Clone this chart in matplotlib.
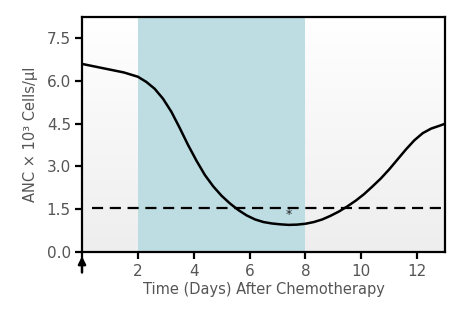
import numpy as np
import matplotlib.pyplot as plt
from matplotlib.colors import LinearSegmentedColormap

# values
days = [0, 0.5, 1.0, 1.5, 2.0, 2.3, 2.6, 2.9, 3.2, 3.5, 3.8, 4.1, 4.4, 4.7,
        5.0, 5.3, 5.6, 5.9, 6.2, 6.5, 6.8, 7.1, 7.4, 7.7, 8.0, 8.3, 8.6, 8.9,
        9.2, 9.5, 9.8, 10.1, 10.4, 10.7, 11.0, 11.3, 11.6, 11.9, 12.2, 12.5,
        12.8, 13.0]
anc = [6.6, 6.5, 6.4, 6.3, 6.15, 5.97, 5.73, 5.38, 4.92, 4.35, 3.75, 3.2,
       2.7, 2.3, 1.97, 1.7, 1.47, 1.28, 1.14, 1.05, 1.0, 0.97, 0.95, 0.96,
       0.99, 1.05, 1.14, 1.27, 1.42, 1.6, 1.8, 2.03, 2.3, 2.58, 2.9, 3.25,
       3.6, 3.92, 4.17, 4.33, 4.43, 4.5]
threshold = 1.55
nadir_window = (2, 8)
nadir_mark = (7.4, 1.32)
x_ticks = [0, 2, 4, 6, 8, 10, 12]
x_labels = ['', '2', '4', '6', '8', '10', '12']
y_ticks = [0.0, 1.5, 3.0, 4.5, 6.0, 7.5]

txt = '#555555'
plt.rcParams['font.family'] = ['DejaVu Sans']

fig = plt.figure(figsize=(4.74, 3.13), dpi=100)
ax = fig.add_axes([0.173, 0.195, 0.766, 0.751])
ax.set_xlim(0, 13)
ax.set_ylim(0, 8.25)

# soft background gradient
grad = np.linspace(0, 1, 100).reshape(-1, 1)
bg = LinearSegmentedColormap.from_list('bg', ['#ffffff', '#eeeeee'])
ax.imshow(grad, extent=[0, 13, 0, 8.25], aspect='auto', origin='upper',
          cmap=bg, zorder=0)

ax.axvspan(*nadir_window, color='#bddde3', zorder=1, lw=0)
ax.hlines(threshold, 0.35, 13, colors='black', linestyles=(0, (5, 3)),
          lw=1.6, zorder=2)
ax.plot(days, anc, color='black', lw=1.8, zorder=3)
ax.text(nadir_mark[0], nadir_mark[1], '*', ha='center', va='center',
        fontsize=9, color='#222222', zorder=4)

for s in ax.spines.values():
    s.set_linewidth(1.6)
ax.set_xticks(x_ticks)
ax.set_xticklabels(x_labels)
ax.set_yticks(y_ticks)
ax.set_yticklabels([f'{v:.1f}' for v in y_ticks])
ax.tick_params(length=5, width=1.6, color='black', labelcolor=txt,
               labelsize=11, pad=3)
ax.tick_params(axis='x', pad=4)

ax.set_xlabel('Time (Days) After Chemotherapy', color=txt, fontsize=10.5,
              labelpad=2)
ax.set_ylabel('ANC × 10³ Cells/µl', color=txt, fontsize=10.5, labelpad=6)

# arrow at day 0
ax.annotate('', xy=(0, -0.15), xytext=(0, -0.72),
            arrowprops=dict(arrowstyle='-|>', color='black', lw=1.8,
                            mutation_scale=11, shrinkA=0, shrinkB=0),
            annotation_clip=False)

fig.savefig('out.png', dpi=100)
